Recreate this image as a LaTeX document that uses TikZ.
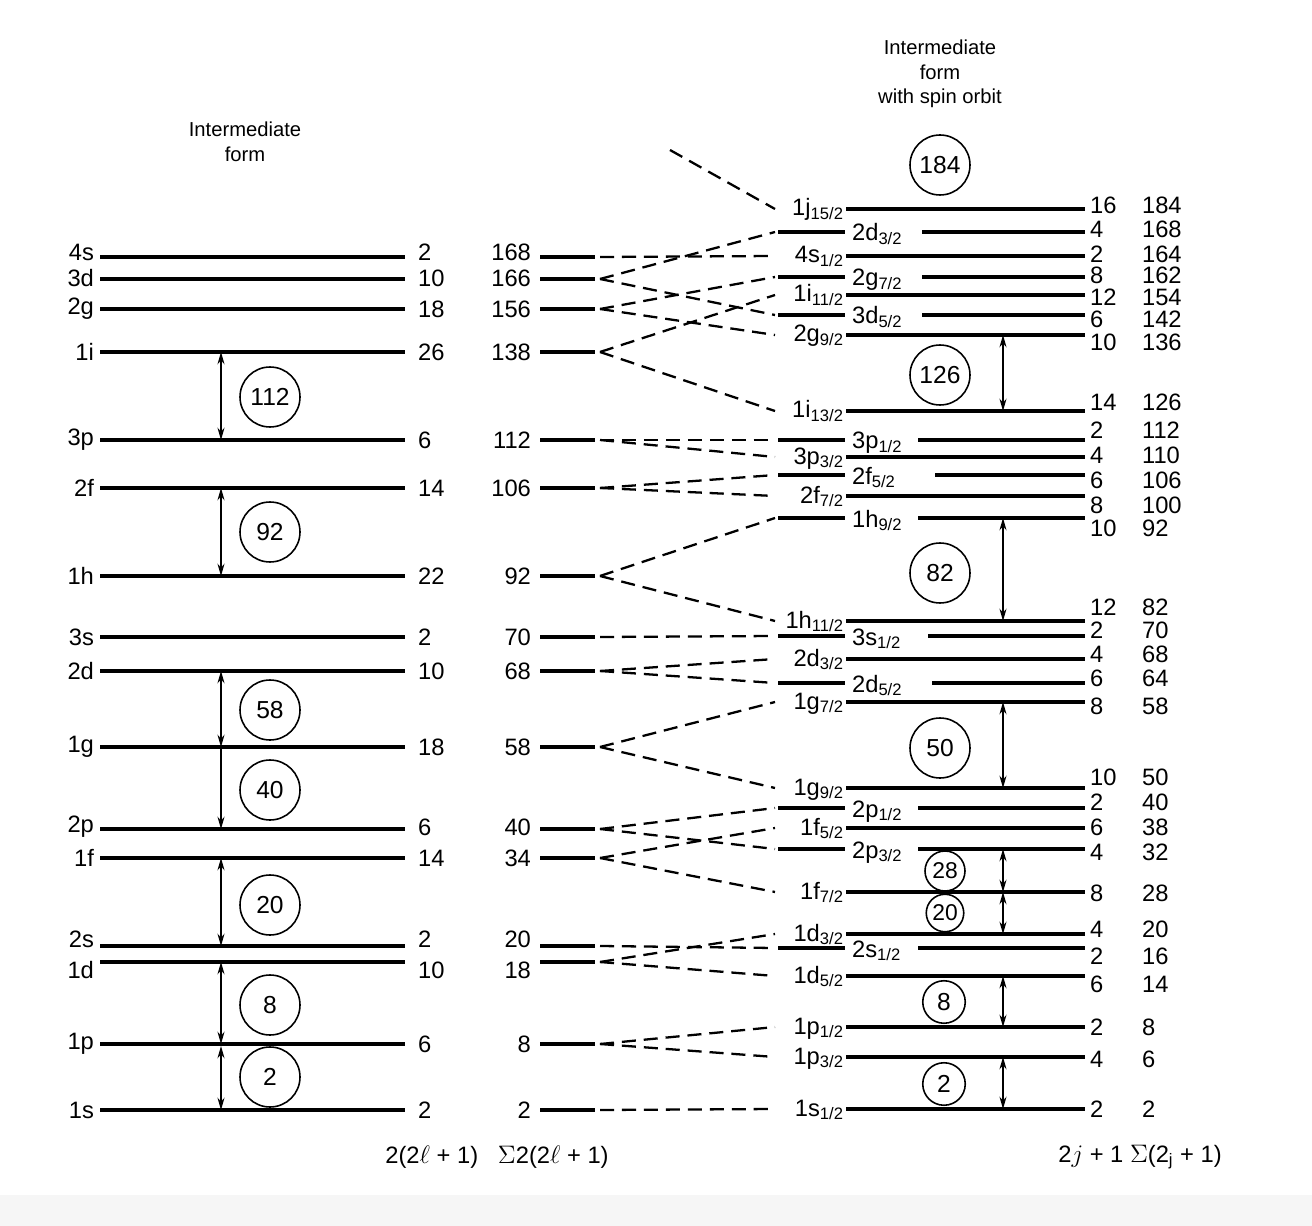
\documentclass[tikz,border=0pt]{standalone}
\usepackage{fontspec}
\setmainfont{Liberation Sans}
\usetikzlibrary{arrows.meta}
\begin{document}
\begin{tikzpicture}[x=0.02cm,y=-0.02cm,
  lev/.style={line width=2pt},
  dsh/.style={line width=1.3pt,dash pattern=on 8pt off 4.5pt},
  num/.style={font=\fontsize{13.5}{16}\selectfont,inner sep=1pt},
  lab/.style={font=\fontsize{13.5}{16}\selectfont,inner sep=1pt},
  ttl/.style={font=\fontsize{11.5}{14}\selectfont,align=center},
  magic/.style={draw,circle,line width=0.9pt,minimum size=1.2cm,inner sep=0pt,font=\fontsize{14}{16}\selectfont},
  smagic/.style={draw,circle,line width=0.9pt,minimum size=0.8cm,inner sep=0pt,font=\fontsize{13}{14}\selectfont},
  gap/.style={line width=0.8pt,{Stealth[length=7pt,width=4pt]}-{Stealth[length=7pt,width=4pt]}},
  gapd/.style={line width=0.8pt,-{Stealth[length=7pt,width=4pt]}}]
\useasboundingbox (0,0) rectangle (1312,1226);
\fill[gray!7] (0,1195) rectangle (1312,1226);

% #1 name, #2 line y, #3 count, #4 text y
\newcommand\llev[4]{%
  \node[lab,anchor=east] (lL#1) at (96,#4) {#1};
  \draw[lev] (100,#2) -- (405,#2);
  \node[num,anchor=west] (lN#1) at (416,#4) {#3};}
\llev{4s}{257}{2}{252}
\llev{3d}{279}{10}{278}
\llev{2g}{309}{18}{309}
\llev{1i}{352}{26}{352}
\llev{3p}{440}{6}{440}
\llev{2f}{488}{14}{488}
\llev{1h}{576}{22}{576}
\llev{3s}{637}{2}{637}
\llev{2d}{671}{10}{671}
\llev{1g}{747}{18}{747}
\llev{2p}{829}{6}{827}
\llev{1f}{858}{14}{858}
\llev{2s}{946}{2}{939}
\llev{1d}{962}{10}{970}
\llev{1p}{1044}{6}{1044}
\llev{1s}{1110}{2}{1110}

\node[ttl] (tl) at (245,142) {Intermediate\\form};
\node[ttl] (tr) at (940,74) {Intermediate\\form\\with spin orbit};

% left gaps
\foreach \n/\y in {112/397,92/532,58/710,40/790,20/905,8/1005,2/1077}
  \node[magic] (lc\n) at (270,\y) {\n};
\coordinate (a1) at (221,352); \coordinate (a2) at (221,440);
\coordinate (a3) at (221,488); \coordinate (a4) at (221,576);
\coordinate (a5) at (221,671); \coordinate (a6) at (221,747);
\coordinate (a7) at (221,749); \coordinate (a8) at (221,829);
\coordinate (a9) at (221,858); \coordinate (a10) at (221,946);
\coordinate (a11) at (221,962); \coordinate (a12) at (221,1044);
\coordinate (a13) at (221,1046); \coordinate (a14) at (221,1110);
\draw[gap] (a1) -- (a2); \draw[gap] (a3) -- (a4); \draw[gap] (a5) -- (a6);
\draw[gapd] (a7) -- (a8); \draw[gap] (a9) -- (a10); \draw[gap] (a11) -- (a12);
\draw[gap] (a13) -- (a14);

% middle: #1 line y, #2 value, #3 text y
\newcommand\mlev[3]{%
  \node[num,anchor=east] (mN#2) at (533,#3) {#2};
  \draw[lev] (540,#1) -- (595,#1);
  \coordinate (m#2) at (600,#1);}
\mlev{257}{168}{252}\mlev{279}{166}{278}\mlev{309}{156}{309}\mlev{352}{138}{352}
\mlev{440}{112}{440}\mlev{488}{106}{488}\mlev{576}{92}{576}\mlev{637}{70}{637}
\mlev{671}{68}{671}\mlev{747}{58}{747}\mlev{829}{40}{827}\mlev{858}{34}{858}
\mlev{946}{20}{939}\mlev{962}{18}{970}\mlev{1044}{8}{1044}\mlev{1110}{2}{1110}

% right: A = label at left; #6 number text y
\newcommand\rA[6]{%
  \coordinate (r#1) at (775,#2);
  \node[lab,anchor=base east] (rL#1) at (846,#2+7) {#3};
  \draw[lev] (846,#2) -- (1085,#2);
  \node[num,anchor=west] (rN#1) at (1088,#6) {#4};
  \node[num,anchor=west] (rS#1) at (1140,#6) {#5};}
% B = stub then label; #6 line start, #7 number text y
\newcommand\rB[7]{%
  \coordinate (r#1) at (775,#2);
  \draw[lev] (778,#2) -- (845,#2);
  \node[lab,anchor=base west] (rL#1) at (850,#2+9) {#3};
  \draw[lev] (#6,#2) -- (1085,#2);
  \node[num,anchor=west] (rN#1) at (1088,#7) {#4};
  \node[num,anchor=west] (rS#1) at (1140,#7) {#5};}

\rA{1j15}{209}{1j\textsubscript{15/2}}{16}{184}{205}
\rB{2d3a}{232}{2d\textsubscript{3/2}}{4}{168}{922}{229}
\rA{4s1}{256}{4s\textsubscript{1/2}}{2}{164}{254}
\rB{2g7}{277}{2g\textsubscript{7/2}}{8}{162}{922}{275}
\rA{1i11}{295}{1i\textsubscript{11/2}}{12}{154}{297}
\rB{3d5}{315}{3d\textsubscript{5/2}}{6}{142}{922}{319}
\rA{2g9}{335}{2g\textsubscript{9/2}}{10}{136}{342}
\rA{1i13}{411}{1i\textsubscript{13/2}}{14}{126}{402}
\rB{3p1}{440}{3p\textsubscript{1/2}}{2}{112}{918}{430}
\rA{3p3}{457}{3p\textsubscript{3/2}}{4}{110}{455}
\rB{2f5}{475}{2f\textsubscript{5/2}}{6}{106}{935}{480}
\rA{2f7}{496}{2f\textsubscript{7/2}}{8}{100}{505}
\rB{1h9}{518}{1h\textsubscript{9/2}}{10}{92}{918}{528}
\rA{1h11}{621}{1h\textsubscript{11/2}}{12}{82}{607}
\rB{3s1}{636}{3s\textsubscript{1/2}}{2}{70}{928}{630}
\rA{2d3}{659}{2d\textsubscript{3/2}}{4}{68}{654}
\rB{2d5}{683}{2d\textsubscript{5/2}}{6}{64}{932}{678}
\rA{1g7}{702}{1g\textsubscript{7/2}}{8}{58}{706}
\rA{1g9}{788}{1g\textsubscript{9/2}}{10}{50}{777}
\rB{2p1}{808}{2p\textsubscript{1/2}}{2}{40}{918}{802}
\rA{1f5}{828}{1f\textsubscript{5/2}}{6}{38}{827}
\rB{2p3}{849}{2p\textsubscript{3/2}}{4}{32}{918}{852}
\rA{1f7}{892}{1f\textsubscript{7/2}}{8}{28}{893}
\rA{1d3}{934}{1d\textsubscript{3/2}}{4}{20}{929}
\rB{2s1}{948}{2s\textsubscript{1/2}}{2}{16}{918}{956}
\rA{1d5}{976}{1d\textsubscript{5/2}}{6}{14}{984}
\rA{1p1}{1027}{1p\textsubscript{1/2}}{2}{8}{1027}
\rA{1p3}{1057}{1p\textsubscript{3/2}}{4}{6}{1059}
\rA{1s1}{1109}{1s\textsubscript{1/2}}{2}{2}{1109}

% right magic numbers
\node[magic] (rc184) at (940,165) {184};
\node[magic] (rc126) at (940,375) {126};
\node[magic] (rc82) at (940,573) {82};
\node[magic] (rc50) at (940,748) {50};
\node[smagic] (rc28) at (945,871) {28};
\node[smagic,minimum size=0.75cm] (rc20) at (945,913) {20};
\node[smagic,minimum size=0.85cm,font=\fontsize{14}{16}\selectfont] (rc8) at (944,1002) {8};
\node[smagic,minimum size=0.85cm,font=\fontsize{14}{16}\selectfont] (rc2) at (944,1084) {2};

\coordinate (b1) at (1003,335); \coordinate (b2) at (1003,411);
\coordinate (b3) at (1003,518); \coordinate (b4) at (1003,621);
\coordinate (b5) at (1003,702); \coordinate (b6) at (1003,788);
\coordinate (b7) at (1003,849); \coordinate (b8) at (1003,892);
\coordinate (b9) at (1003,934);
\coordinate (b10) at (1003,976); \coordinate (b11) at (1003,1027);
\coordinate (b12) at (1003,1057); \coordinate (b13) at (1003,1109);
\draw[gap] (b1) -- (b2); \draw[gap] (b3) -- (b4); \draw[gap] (b5) -- (b6);
\draw[gap] (b7) -- (b8); \draw[gap] (b8) -- (b9);
\draw[gap] (b10) -- (b11); \draw[gap] (b12) -- (b13);

% dashed connections
\coordinate (top) at (670,150);
\draw[dsh] (top) -- (r1j15);
\draw[dsh] (m168) -- (r4s1);
\draw[dsh] (m166) -- (r2d3a); \draw[dsh] (m166) -- (r3d5);
\draw[dsh] (m156) -- (r2g7); \draw[dsh] (m156) -- (r2g9);
\draw[dsh] (m138) -- (r1i11); \draw[dsh] (m138) -- (r1i13);
\draw[dsh] (m112) -- (r3p1); \draw[dsh] (m112) -- (r3p3);
\draw[dsh] (m106) -- (r2f5); \draw[dsh] (m106) -- (r2f7);
\draw[dsh] (m92) -- (r1h9); \draw[dsh] (m92) -- (r1h11);
\draw[dsh] (m70) -- (r3s1);
\draw[dsh] (m68) -- (r2d3); \draw[dsh] (m68) -- (r2d5);
\draw[dsh] (m58) -- (r1g7); \draw[dsh] (m58) -- (r1g9);
\draw[dsh] (m40) -- (r2p1); \draw[dsh] (m40) -- (r2p3);
\draw[dsh] (m34) -- (r1f5); \draw[dsh] (m34) -- (r1f7);
\draw[dsh] (m20) -- (r2s1);
\draw[dsh] (m18) -- (r1d3); \draw[dsh] (m18) -- (r1d5);
\draw[dsh] (m8) -- (r1p1); \draw[dsh] (m8) -- (r1p3);
\draw[dsh] (m2) -- (r1s1);

\node[num] (fl) at (497,1157) {2(2$\ell$ + 1)\ \ \ $\Sigma$2(2$\ell$ + 1)};
\node[num] (fr) at (1140,1157) {2$j$ + 1\ $\Sigma$(2\textsubscript{j} + 1)};
\end{tikzpicture}
\end{document}
